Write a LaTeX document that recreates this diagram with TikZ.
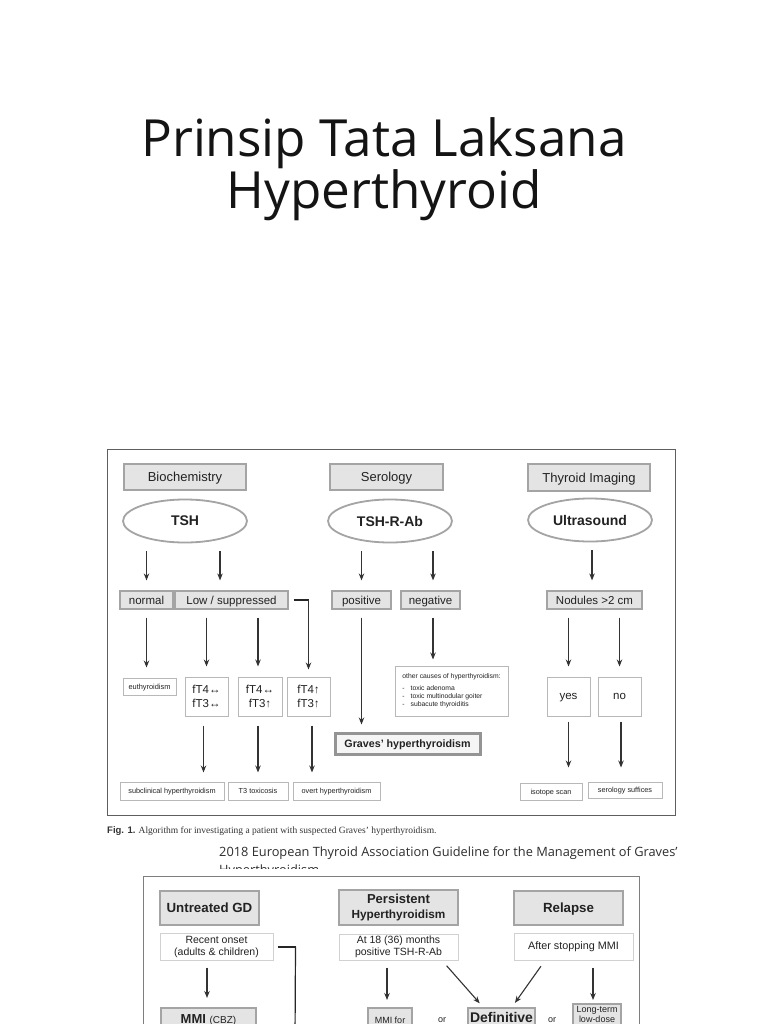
\documentclass[tikz,border=0pt]{standalone}
\usepackage{fontspec}
\setmainfont{Liberation Sans}
\newfontfamily\titlefont{Open Sans}
\newfontfamily\capserif{Liberation Serif}
\usetikzlibrary{arrows.meta,shapes.geometric}
\definecolor{hdrfill}{HTML}{E4E4E4}
\definecolor{hdrline}{HTML}{A4A4A4}
\definecolor{boxline}{HTML}{B8B8B8}
\definecolor{arrcol}{HTML}{333333}
\definecolor{framecol}{HTML}{5E5E5E}
\definecolor{txt}{HTML}{222222}
\newcommand{\myfs}[2]{\fontsize{#1}{#2}\selectfont}
\begin{document}
\begin{tikzpicture}[x=1pt,y=-1pt,
  hdr/.style={draw=hdrline, fill=hdrfill, line width=1.6pt, inner sep=0pt, text=txt, font=\myfs{13}{15}},
  hdrone/.style={hdr, text depth=0pt},
  tagbox/.style={draw=hdrline, fill=hdrfill, line width=1.2pt, inner sep=0pt, text=txt, font=\myfs{11.5}{13}, text depth=0pt},
  wbox/.style={draw=boxline, fill=white, line width=1pt, inner sep=0pt, text=txt},
  oval/.style={ellipse, draw=hdrline, fill=white, line width=1.8pt, inner sep=0pt, text=txt, font=\bfseries\myfs{14}{16}},
  arr/.style={draw=arrcol, line width=1.1pt, -{Stealth[length=7pt,width=5.5pt]}},
  barline/.style={draw=black!85, line width=2pt},
  small/.style={font=\myfs{7.3}{9}, text depth=0pt},
]
\useasboundingbox (0,0) rectangle (768,1024);
\fill[white] (0,0) rectangle (768,1024);
\clip (0,0) rectangle (768,1024);

% ---- title ----
\node[anchor=base, inner sep=0pt, font=\titlefont\myfs{51.2}{52}, text=black!92] (t1) at (384,157) {Prinsip Tata Laksana};
\node[anchor=base, inner sep=0pt, font=\titlefont\myfs{51.2}{52}, text=black!92] (t2) at (384,209) {Hyperthyroid};

% ---- figure 1 ----
\draw[framecol, line width=1pt] (107,449) rectangle (675,815);

\node[hdrone, minimum width=122pt, minimum height=26pt] (bio) at (185,477) {Biochemistry};
\node[hdrone, minimum width=113pt, minimum height=26pt] (sero) at (386.5,477) {Serology};
\node[hdrone, minimum width=122pt, minimum height=27pt] (img) at (589,477.5) {Thyroid Imaging};

\node[oval, minimum width=124pt, minimum height=43pt] (tsh) at (185,521) {TSH};
\node[oval, minimum width=124pt, minimum height=43pt] (trab) at (390,521) {TSH-R-Ab};
\node[oval, minimum width=124pt, minimum height=43pt] (us) at (590,520) {Ultrasound};

\node[tagbox, minimum width=53pt, minimum height=18pt] (normal) at (146.5,600) {normal};
\node[tagbox, minimum width=113pt, minimum height=18pt] (low) at (231.5,600) {Low / suppressed};
\node[tagbox, minimum width=59pt, minimum height=18pt] (pos) at (361.5,600) {positive};
\node[tagbox, minimum width=59pt, minimum height=18pt] (neg) at (430.5,600) {negative};
\node[tagbox, minimum width=95pt, minimum height=18pt] (nod) at (594.5,600) {Nodules >2 cm};

\node[wbox, minimum width=53pt, minimum height=17pt, font=\myfs{7.4}{8}, text depth=0pt] (euthy) at (149.5,686.5) {euthyroidism};
\node[wbox, minimum width=43pt, minimum height=39pt, align=center, font=\myfs{11.5}{13.5}] (f1) at (206.5,696.5) {fT4↔\\fT3↔};
\node[wbox, minimum width=44pt, minimum height=39pt, align=center, font=\myfs{11.5}{13.5}] (f2) at (260,696.5) {fT4↔\\fT3↑};
\node[wbox, minimum width=43pt, minimum height=39pt, align=center, font=\myfs{11.5}{13.5}] (f3) at (308.5,696.5) {fT4↑\\fT3↑};
\node[wbox, minimum width=113pt, minimum height=50pt, align=left, font=\myfs{6.8}{8.4}] (other) at (451.5,691) {other causes of hyperthyroidism:\\[3pt]-\hspace{6pt}toxic adenoma\\-\hspace{6pt}toxic multinodular goiter\\-\hspace{6pt}subacute thyroiditis};
\node[wbox, minimum width=43pt, minimum height=39pt, font=\myfs{11.5}{13}, text depth=0pt] (yes) at (568.5,696.5) {yes};
\node[wbox, minimum width=43pt, minimum height=39pt, font=\myfs{11.5}{13}, text depth=0pt] (no) at (619.5,696.5) {no};
\node[draw=black!42, line width=3pt, fill=black!4, inner sep=0pt, minimum width=145pt, minimum height=21pt, text=txt, font=\bfseries\myfs{10.7}{12}, text depth=0pt] (graves) at (407.5,743.5) {Graves’ hyperthyroidism};

\node[wbox, small, minimum width=104pt, minimum height=18pt] (sub) at (172,791) {subclinical hyperthyroidism};
\node[wbox, small, minimum width=60pt, minimum height=18pt] (t3) at (258,791) {T3 toxicosis};
\node[wbox, small, minimum width=87pt, minimum height=18pt] (overt) at (336.5,791) {overt hyperthyroidism};
\node[wbox, small, minimum width=62pt, minimum height=17pt] (iso) at (551,791.5) {isotope scan};
\node[wbox, small, minimum width=74pt, minimum height=16pt] (suff) at (625,790) {serology suffices};

% arrows row 1
\draw[arr, shorten <=8pt, shorten >=10pt] (tsh.south -| normal.north) -- (normal.north);
\draw[arr, shorten <=8pt, shorten >=10pt] ([xshift=-11.5pt]low.north |- tsh.south) -- ([xshift=-11.5pt]low.north);
\draw[arr, shorten <=8pt, shorten >=10pt] (trab.south -| pos.north) -- (pos.north);
\draw[arr, shorten <=8pt, shorten >=10pt] ([xshift=2.5pt]neg.north |- trab.south) -- ([xshift=2.5pt]neg.north);
\draw[arr, shorten <=8pt, shorten >=10pt] ([xshift=-2.5pt]nod.north |- us.south) -- ([xshift=-2.5pt]nod.north);

% arrows row 2
\draw[arr, shorten <=8pt, shorten >=10pt] (normal.south) -- (normal.south |- euthy.north);
\draw[arr, shorten <=8pt, shorten >=10pt] (low.south -| f1.north) -- (f1.north);
\draw[arr, shorten <=8pt, shorten >=10pt] ([xshift=-2pt]f2.north |- low.south) -- ([xshift=-2pt]f2.north);
\draw[barline] ([xshift=5pt]low.east) -- (low.east -| f3.north);
\draw[arr, shorten >=7pt] (low.east -| f3.north) -- (f3.north);
\draw[arr, shorten <=8pt, shorten >=7pt] (pos.south) -- (pos.south |- graves.north);
\draw[arr, shorten <=8pt, shorten >=6pt] ([xshift=2.5pt]neg.south) -- ([xshift=2.5pt]neg.south |- other.north);
\draw[arr, shorten <=8pt, shorten >=10pt] (nod.south -| yes.north) -- (yes.north);
\draw[arr, shorten <=8pt, shorten >=10pt] (nod.south -| no.north) -- (no.north);

% arrows row 3
\draw[arr, shorten <=9pt, shorten >=9pt] ([xshift=-3pt]f1.south) -- ([xshift=-3pt]f1.south |- sub.north);
\draw[arr, shorten <=9pt, shorten >=9pt] ([xshift=-2pt]f2.south) -- ([xshift=-2pt]f2.south |- t3.north);
\draw[arr, shorten <=9pt, shorten >=9pt] ([xshift=3.5pt]f3.south) -- ([xshift=3.5pt]f3.south |- overt.north);
\draw[arr, shorten <=5pt, shorten >=15pt] (yes.south) -- (yes.south |- iso.north);
\draw[arr, shorten <=5pt, shorten >=14pt] ([xshift=1.5pt]no.south) -- ([xshift=1.5pt]no.south |- suff.north);

% ---- caption ----
\node[anchor=base west, inner sep=0pt, font=\capserif\myfs{9.5}{11}, text=black!80] (cap) at (107,833) {{\rmfamily\bfseries Fig. 1.} Algorithm for investigating a patient with suspected Graves’ hyperthyroidism.};

\begin{scope}
\clip (0,0) rectangle (768,868);
\node[anchor=base west, inner sep=0pt, font=\titlefont\myfs{12.8}{15}, text=black!82] (gl1) at (219,856) {2018 European Thyroid Association Guideline for the Management of Graves’};
\node[anchor=base west, inner sep=0pt, font=\titlefont\myfs{12.8}{15}, text=black!82] (gl2) at (219,874) {Hyperthyroidism};
\end{scope}

% ---- figure 2 ----
\draw[framecol!80, line width=1pt] (143,876) rectangle (639,1040);

\node[hdrone, minimum width=99pt, minimum height=34pt, font=\bfseries\myfs{13.3}{15}] (ugd) at (209.5,908) {Untreated GD};
\node[hdr, minimum width=119pt, minimum height=35pt, align=center] (pers) at (398.5,907.5) {{\bfseries\myfs{13}{14}Persistent}\\{\bfseries\myfs{11.8}{13}Hyperthyroidism}};
\node[hdrone, minimum width=109pt, minimum height=34pt, font=\bfseries\myfs{13.3}{15}] (rel) at (568.5,908) {Relapse};

\node[wbox, draw=black!18, minimum width=113pt, minimum height=27pt, align=center, font=\myfs{10.5}{12}] (recent) at (216.5,946.5) {Recent onset\\(adults \& children)};
\node[wbox, draw=black!18, minimum width=119pt, minimum height=26pt, align=center, font=\myfs{10.5}{12}] (at18) at (398.5,947) {At 18 (36) months\\positive TSH-R-Ab};
\node[wbox, draw=black!18, minimum width=119pt, minimum height=27pt, font=\myfs{10.8}{12}] (after) at (573.5,946.5) {After stopping MMI};

\node[hdr, anchor=north, minimum width=95pt, inner ysep=6pt, text height=9.5pt, text depth=14pt] (mmi) at (208.5,1007) {{\bfseries\myfs{13}{15}MMI} {\myfs{10}{12}(CBZ)}};
\node[hdr, anchor=north, minimum width=44pt, inner ysep=8.5pt, text height=6.8pt, text depth=12pt, font=\myfs{9}{11}] (mmifor) at (390,1007) {MMI for};
\node[inner sep=0pt, font=\myfs{9}{11}, text=txt] (or1) at (442,1020) {or};
\node[hdr, anchor=north, minimum width=67pt, inner ysep=4.5pt, text height=10.5pt, text depth=14pt, font=\bfseries\myfs{14}{16}] (def) at (501.5,1007) {Definitive};
\node[inner sep=0pt, font=\myfs{9}{11}, text=txt] (or2) at (552,1020) {or};
\node[hdr, anchor=north, minimum width=48pt, inner ysep=2pt, text height=16.5pt, text depth=14pt, align=center, font=\myfs{9}{9.5}] (lt) at (597,1003) {Long-term\\low-dose};

\draw[barline] ([xshift=4pt]recent.east) -- ([xshift=22pt]recent.east);
\coordinate (brkend) at (295,1040);
\draw[draw=black!85, line width=1.2pt] ([xshift=22pt]recent.east) -- (brkend);

\draw[arr, shorten <=7pt, shorten >=9pt] ([xshift=-1.5pt]mmi.north |- recent.south) -- ([xshift=-1.5pt]mmi.north);
\draw[arr, shorten <=7pt, shorten >=7pt] ([xshift=-3pt]mmifor.north |- at18.south) -- ([xshift=-3pt]mmifor.north);
\draw[arr, shorten <=7pt, shorten >=5pt] ([xshift=43.5pt]at18.south) -- ([xshift=-18.5pt]def.north);
\draw[arr, shorten <=7pt, shorten >=5pt] ([xshift=-28.5pt]after.south) -- ([xshift=10.5pt]def.north);
\draw[arr, shorten <=7pt, shorten >=3pt] ([xshift=-4pt]lt.north |- after.south) -- ([xshift=-4pt]lt.north);
\end{tikzpicture}
\end{document}
